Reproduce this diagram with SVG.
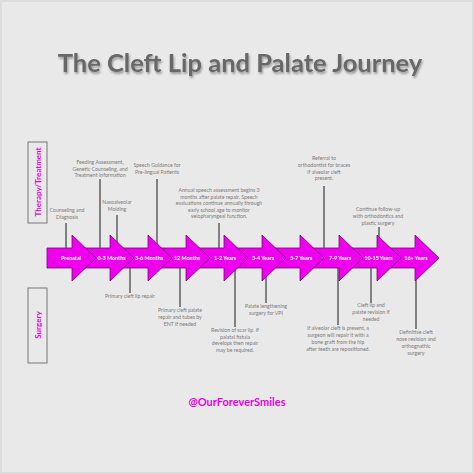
<svg xmlns="http://www.w3.org/2000/svg" width="474" height="474" viewBox="0 0 474 474">
<defs>
<style>
.bg{fill:#e9e9e9}
.note{font-family:Lato,"Liberation Sans",sans-serif;font-size:5.2px;fill:#7a7a7a;text-anchor:middle}
.lbl{font-family:Lato,"Liberation Sans",sans-serif;font-size:5.4px;font-weight:bold;fill:#ffffff;text-anchor:middle}
.arr{fill:#ee00ee;stroke:#6e0a6e;stroke-width:0.8;stroke-linejoin:round}
.con{stroke:#4a4a4a;stroke-width:1.3;fill:none}
.side{fill:none;stroke:#777;stroke-width:1}
.sidet{font-family:Lato,"Liberation Sans",sans-serif;font-size:8px;font-weight:bold;fill:#e600e6;text-anchor:middle}
</style>
<filter id="sh" x="-5%" y="-20%" width="110%" height="150%">
<feGaussianBlur in="SourceAlpha" stdDeviation="1"/>
<feOffset dx="0.5" dy="1.5" result="b"/>
<feComponentTransfer><feFuncA type="linear" slope="0.35"/></feComponentTransfer>
<feMerge><feMergeNode/><feMergeNode in="SourceGraphic"/></feMerge>
</filter>
</defs>
<rect x="0" y="0" width="474" height="474" fill="#dcdcdc"/>
<rect x="2" y="2" width="470" height="470" class="bg"/>
<text x="240" y="72" font-family="Lato,'Liberation Sans',sans-serif" font-size="25.5" font-weight="bold" fill="#686868" text-anchor="middle" filter="url(#sh)">The Cleft Lip and Palate Journey</text>

<g id="therapy-label"><rect x="28" y="142" width="19" height="81" class="side"/><text class="sidet" transform="translate(40.5,182) rotate(-90)">Therapy/Treatment</text></g>
<g id="surgery-label"><rect x="28" y="288" width="19" height="75" class="side"/><text class="sidet" transform="translate(40.5,325) rotate(-90)">Surgery</text></g>

<g id="connectors">
<line class="con" x1="66" y1="223" x2="66" y2="250"/>
<line class="con" x1="100" y1="179" x2="100" y2="250"/>
<line class="con" x1="117" y1="215" x2="117" y2="250"/>
<line class="con" x1="157" y1="179" x2="157" y2="250"/>
<line class="con" x1="219" y1="223" x2="219" y2="250"/>
<line class="con" x1="324" y1="186" x2="324" y2="250"/>
<line class="con" x1="379" y1="227" x2="379" y2="250"/>
<line class="con" x1="130" y1="266" x2="130" y2="293"/>
<line class="con" x1="180" y1="266" x2="180" y2="307"/>
<line class="con" x1="235" y1="266" x2="235" y2="327"/>
<line class="con" x1="266" y1="266" x2="266" y2="303"/>
<line class="con" x1="338" y1="266" x2="338" y2="325"/>
<line class="con" x1="371" y1="266" x2="371" y2="303"/>
<line class="con" x1="416" y1="266" x2="416" y2="329"/>
</g>

<g id="arrow-16plus"><path class="arr" d="M382,248 H415 V235 L439,258 L415,281 V268 H382 Z"/><text class="lbl" x="416" y="260">16+ Years</text></g>
<g id="arrow-10-15"><path class="arr" d="M344,248 H377 V235 L401,258 L377,281 V268 H344 Z"/><text class="lbl" x="378.5" y="260">10-15 Years</text></g>
<g id="arrow-7-9"><path class="arr" d="M305,248 H339 V235 L363,258 L339,281 V268 H305 Z"/><text class="lbl" x="340" y="260">7-9 Years</text></g>
<g id="arrow-5-7"><path class="arr" d="M267,248 H300 V235 L324,258 L300,281 V268 H267 Z"/><text class="lbl" x="301" y="260">5-7 Years</text></g>
<g id="arrow-3-4"><path class="arr" d="M229,248 H262 V235 L286,258 L262,281 V268 H229 Z"/><text class="lbl" x="263" y="260">3-4 Years</text></g>
<g id="arrow-1-2"><path class="arr" d="M191,248 H224 V235 L248,258 L224,281 V268 H191 Z"/><text class="lbl" x="225" y="260">1-2 Years</text></g>
<g id="arrow-12m"><path class="arr" d="M153,248 H186 V235 L210,258 L186,281 V268 H153 Z"/><text class="lbl" x="187" y="260">12 Months</text></g>
<g id="arrow-3-6m"><path class="arr" d="M115,248 H148 V235 L172,258 L148,281 V268 H115 Z"/><text class="lbl" x="149" y="260">3-6 Months</text></g>
<g id="arrow-0-3m"><path class="arr" d="M77,248 H110 V235 L134,258 L110,281 V268 H77 Z"/><text class="lbl" x="111.5" y="260">0-3 Months</text></g>
<g id="arrow-prenatal"><path class="arr" d="M47,248 H72 V235 L96,258 L72,281 V268 H47 Z"/><text class="lbl" x="71" y="260">Prenatal</text></g>

<g id="note-counseling"><text class="note" x="67" y="212">Counseling and</text><text class="note" x="67" y="219">Diagnosis</text></g>
<g id="note-feeding"><text class="note" x="100" y="164">Feeding Assessment,</text><text class="note" x="100" y="170.5">Genetic Counseling, and</text><text class="note" x="100" y="177">Treatment Information</text></g>
<g id="note-nasoalveolar"><text class="note" x="117" y="204">Nasoalveolar</text><text class="note" x="117" y="211">Molding</text></g>
<g id="note-speech-guidance"><text class="note" x="157" y="167">Speech Guidance for</text><text class="note" x="157" y="174">Pre-lingual Patients</text></g>
<g id="note-annual-speech"><text class="note" x="219" y="192">Annual speech assessment begins 3</text><text class="note" x="219" y="198.5">months after palate repair. Speech</text><text class="note" x="219" y="205">evaluations continue annually through</text><text class="note" x="219" y="211.5">early school age to monitor</text><text class="note" x="219" y="218">velopharyngeal function.</text></g>
<g id="note-referral"><text class="note" x="324" y="160">Referral to</text><text class="note" x="324" y="167">orthodontist for braces</text><text class="note" x="324" y="173.5">if alveolar cleft</text><text class="note" x="324" y="180">present.</text></g>
<g id="note-followup"><text class="note" x="378" y="211">Continue follow-up</text><text class="note" x="378" y="218">with orthodontics and</text><text class="note" x="378" y="225">plastic surgery</text></g>

<g id="note-lip-repair"><text class="note" x="130" y="298">Primary cleft lip repair</text></g>
<g id="note-palate-repair"><text class="note" x="180" y="312">Primary cleft palate</text><text class="note" x="180" y="319">repair and tubes by</text><text class="note" x="180" y="326">ENT if needed</text></g>
<g id="note-revision-scar"><text class="note" x="235" y="332">Revision of scar lip. If</text><text class="note" x="235" y="338.5">palatal fistula</text><text class="note" x="235" y="345">develops then repair</text><text class="note" x="235" y="351.5">may be required.</text></g>
<g id="note-lengthening"><text class="note" x="266" y="308">Palate lengthening</text><text class="note" x="266" y="315">surgery for VPI</text></g>
<g id="note-bone-graft"><text class="note" x="338" y="330">If alveolar cleft is present, a</text><text class="note" x="338" y="337">surgeon will repair it with a</text><text class="note" x="338" y="344">bone graft from the hip</text><text class="note" x="338" y="351">after teeth are repositioned.</text></g>
<g id="note-revision"><text class="note" x="371" y="307">Cleft lip and</text><text class="note" x="371" y="314">palate revision if</text><text class="note" x="371" y="321">needed</text></g>
<g id="note-definitive"><text class="note" x="416" y="334">Definitive cleft</text><text class="note" x="416" y="341">nose revision and</text><text class="note" x="416" y="348">orthognathic</text><text class="note" x="416" y="355">surgery</text></g>

<text x="237" y="406" font-family="Lato,'Liberation Sans',sans-serif" font-size="11" font-weight="bold" fill="#e600e6" text-anchor="middle">@OurForeverSmiles</text>
</svg>
